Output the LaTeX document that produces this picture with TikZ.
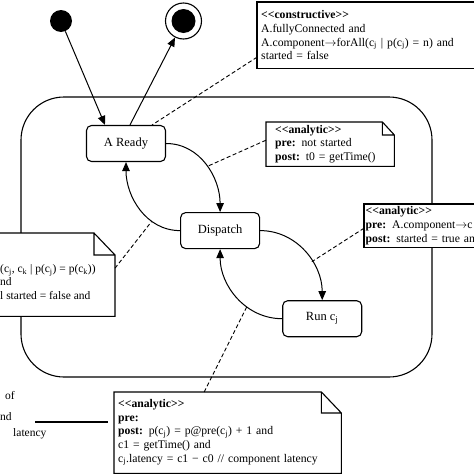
\documentclass[tikz,border=0pt]{standalone}
\usepackage{fontspec}
\setmainfont{Liberation Serif}
\usetikzlibrary{
    positioning,
    arrows.meta
}

\begin{document}
\begin{tikzpicture}[
    x=1pt, y=1pt,
    state/.style={
        rectangle,
        draw=black,
        line width=1.1pt,
        rounded corners=5pt,
        fill=white,
        minimum width=79pt,
        minimum height=36pt,
        inner sep=0pt,
        font=\fontsize{12.5}{15}\selectfont
    },
    initst/.style={circle, fill=black, minimum size=22pt, inner sep=0pt},
    finalst/.style={circle, draw=black, line width=1.1pt, minimum size=36pt, inner sep=0pt},
    compstate/.style={rectangle, draw=black, line width=1.1pt, rounded corners=43pt,
        minimum width=411pt, minimum height=280pt},
    note/.style={
        rectangle,
        fill=white,
        anchor=north west,
        align=left,
        inner ysep=0pt,
        inner xsep=4pt,
        font=\fontsize{11.7}{13.6}\selectfont
    },
    noteline/.style={draw=black, line width=1.1pt},
    cuttext/.style={inner sep=0pt, font=\fontsize{11.5}{13.6}\selectfont},
    trans/.style={-{Triangle[length=9pt,width=7.5pt]}, line width=1pt},
    anchorline/.style={dash pattern=on 4pt off 2.5pt, line width=0.9pt},
    assoc/.style={line width=1.1pt}
]
\path[use as bounding box, clip] (0,0) rectangle (474,-474);

% Composite state
\node[compstate] (comp) at (226.5,-237) {};

% Pseudo states
\node[initst] (init) at (61,-21) {};
\node[finalst] (final) at (183.5,-21) {};
\fill (final) circle[radius=12pt];

% States
\node[state] (ready) at (126,-143.5) {A Ready};
\node[state, below right=50pt and 14pt of ready] (dispatch) {Dispatch};
\node[state, below right=51pt and 22pt of dispatch] (run) {Run c\textsubscript{j}};

% Transitions
\draw[trans] (init) -- ([xshift=-21pt]ready.north);
\draw[trans] ([xshift=4pt]ready.north) -- (final);
\draw[trans] (ready.east) to[out=0, in=90] coordinate[pos=0.52] (t1) (dispatch.north);
\draw[trans] (dispatch.west) to[out=180, in=-90] coordinate[pos=0.32] (t2) (ready.south);
\draw[trans] (dispatch.east) to[out=0, in=90] coordinate[pos=0.62] (t3) (run.north);
\draw[trans] (run.west) to[out=180, in=-90] coordinate[pos=0.37] (t4) (dispatch.south);

% Notes
\node[note, minimum width=223pt, minimum height=66pt, text width=215pt] (cnote) at (257,-2) {
    \textbf{<{}<constructive>{}>}\\
    A.fullyConnected and\\
    A.component$\rightarrow$forAll(c\textsubscript{j} | p(c\textsubscript{j}) = n) and\\
    started = false
};
\draw[noteline] (cnote.south west) rectangle (cnote.north east);

\node[note, inner xsep=9pt, minimum width=128pt, minimum height=44pt, text width=110pt] (anote1) at (266,-122) {
    \textbf{<{}<analytic>{}>}\\
    \textbf{pre:} not started\\
    \textbf{post:} t0 = getTime()
};
\draw[noteline] (anote1.south west) -- (anote1.north west) -- ([xshift=-12pt]anote1.north east)
    -- ([yshift=-13pt]anote1.north east) -- (anote1.south east) -- cycle
    ([xshift=-12pt]anote1.north east) |- ([yshift=-13pt]anote1.north east);

\node[note, inner xsep=1.5pt, minimum width=130pt, minimum height=43pt, text width=127pt] (anote2) at (364,-204) {
    \textbf{<{}<analytic>{}>}\\
    \textbf{pre:} A.component$\rightarrow$c\\
    \textbf{post:} started = true an
};
\draw[noteline] (anote2.south west) rectangle (anote2.north east);

\node[note, anchor=north east, minimum width=130pt, minimum height=83pt] (lnote) at (115,-233) {};
\draw[noteline] (lnote.south west) -- (lnote.north west) -- ([xshift=-21pt]lnote.north east)
    -- ([yshift=-22pt]lnote.north east) -- (lnote.south east) -- cycle
    ([xshift=-21pt]lnote.north east) |- ([yshift=-22pt]lnote.north east);
\node[cuttext, anchor=west, align=left] (ltext) at (0,-282) {
    (c\textsubscript{j}, c\textsubscript{k} | p(c\textsubscript{j}) = p(c\textsubscript{k}))\\
    nd\\
    l started = false and
};

\node[note, minimum width=227pt, minimum height=81pt, text width=219pt] (bnote) at (114,-392) {
    \textbf{<{}<analytic>{}>}\\
    \textbf{pre:}\\
    \textbf{post:} p(c\textsubscript{j}) = p@pre(c\textsubscript{j}) + 1 and\\
    c1 = getTime() and\\
    c\textsubscript{j}.latency = c1 − c0 // component latency
};
\draw[noteline] (bnote.south west) -- (bnote.north west) -- ([xshift=-20pt]bnote.north east)
    -- ([yshift=-21pt]bnote.north east) -- (bnote.south east) -- cycle
    ([xshift=-20pt]bnote.north east) |- ([yshift=-21pt]bnote.north east);

% Text cut at the left border
\node[cuttext, anchor=base west] (tof) at (5,-399) {of};
\node[cuttext, anchor=base west] (tnd) at (0,-420) {nd};
\node[cuttext, anchor=base west] (tlat) at (13,-436) {latency};
\coordinate (lnk) at (35,-422);
\draw[assoc, shorten >=6pt] (lnk) -- (lnk -| bnote.west);

% Note anchors
\draw[anchorline] ([yshift=-22pt]cnote.west) -- ([xshift=-14pt]ready.north east);
\draw[anchorline] ([yshift=4pt]anote1.west) -- (t1);
\draw[anchorline] ([yshift=-2.5pt]anote2.west) -- (t3);
\draw[anchorline] ([yshift=6.5pt]lnote.east) -- (t2);
\draw[anchorline] ([xshift=-23.5pt]bnote.north) -- (t4);

\end{tikzpicture}
\end{document}
